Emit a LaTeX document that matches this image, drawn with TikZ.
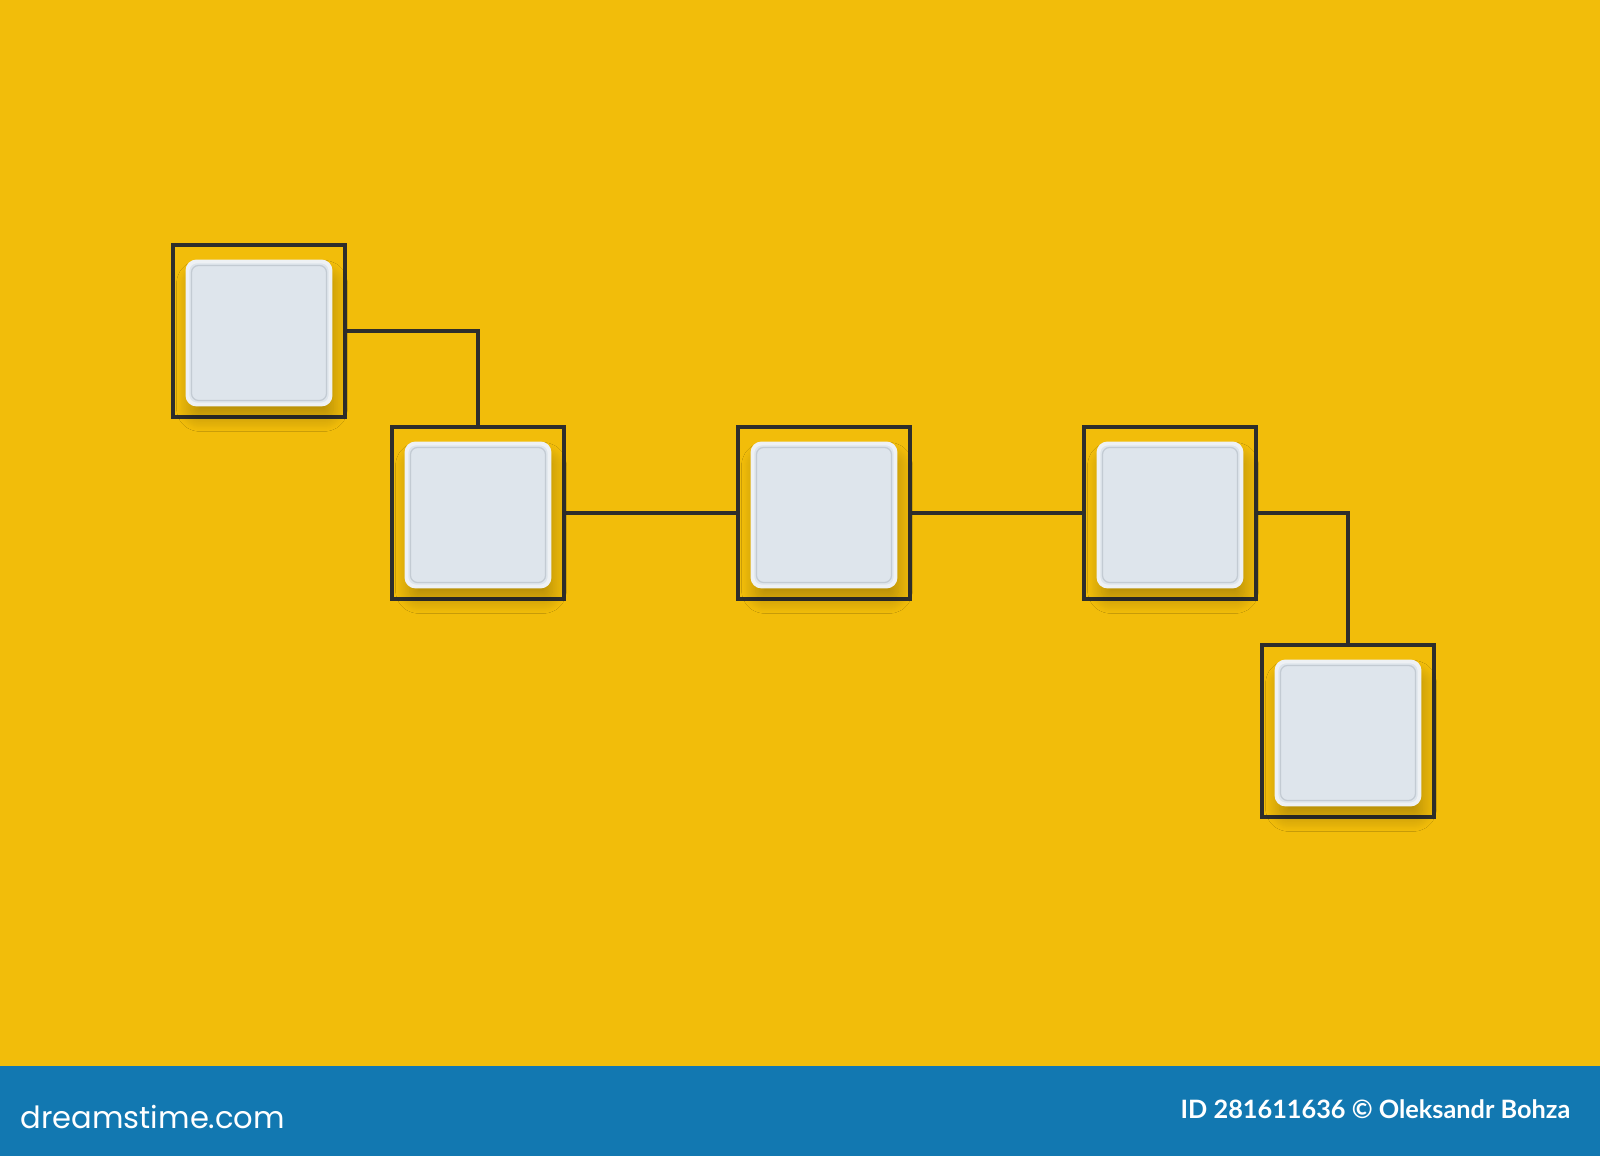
\documentclass[tikz,border=0pt]{standalone}
\usepackage{fontspec}
\usetikzlibrary{shadows.blur}
\newfontfamily\brandfont{Poppins}
\newfontfamily\creditfont{Lato}

\definecolor{bgyellow}{HTML}{F2BD0A}
\definecolor{bandblue}{HTML}{1278B1}
\definecolor{framegray}{HTML}{2E2E2C}
\definecolor{tileface}{HTML}{DEE5EC}
\definecolor{tilerim}{HTML}{EEF1F4}
\definecolor{tileedge}{HTML}{C3CBD3}

\tikzset{
  frame/.style={draw=framegray, line width=1.4pt, minimum size=1.72cm, inner sep=0pt},
  tile/.style={fill=tileface, draw=tilerim, line width=1.1pt, rounded corners=0.09cm,
    minimum size=1.43cm, inner sep=0pt,
    blur shadow={shadow xshift=0.03cm, shadow yshift=-0.13cm, shadow opacity=26,
      shadow blur radius=0.14cm, shadow blur steps=30}},
  face/.style={draw=tileedge, line width=0.35pt, rounded corners=0.07cm,
    minimum size=1.35cm, inner sep=0pt},
  link/.style={draw=framegray, line width=1.4pt},
}

\begin{document}
\begin{tikzpicture}
    % Background and bottom band
    \fill[bgyellow] (0,0) rectangle (16,11.56);
    \fill[bandblue] (0,0) rectangle (16,0.9);
    % Frames
    \node[frame] (f1) at (2.59,8.25) {};
    \node[frame] (f2) at (4.78,6.43) {};
    \node[frame] (f3) at (8.24,6.43) {};
    \node[frame] (f4) at (11.70,6.43) {};
    \node[frame] (f5) at (13.48,4.25) {};
    % Connect the frames
    \draw[link] (f1.east) -| (f2.north);
    \draw[link] (f2.east) -- (f3.west);
    \draw[link] (f3.east) -- (f4.west);
    \draw[link] (f4.east) -| (f5.north);
    % Tiles
    \node[tile] (t1) at ([yshift=-0.02cm]f1) {};
    \node[face] (s1) at (t1) {};
    \node[tile] (t2) at ([yshift=-0.02cm]f2) {};
    \node[face] (s2) at (t2) {};
    \node[tile] (t3) at ([yshift=-0.02cm]f3) {};
    \node[face] (s3) at (t3) {};
    \node[tile] (t4) at ([yshift=-0.02cm]f4) {};
    \node[face] (s4) at (t4) {};
    \node[tile] (t5) at ([yshift=-0.02cm]f5) {};
    \node[face] (s5) at (t5) {};
    % Band texts
    \node[anchor=base west, text=white, inner sep=0pt, font=\brandfont\fontsize{8.7}{10}\selectfont] (brand) at (0.2,0.27) {dreamstime.com};
    \node[anchor=base east, text=white, inner sep=0pt, font=\creditfont\bfseries\fontsize{7.2}{9}\selectfont] (credit) at (15.71,0.37) {ID 281611636 © Oleksandr Bohza};
\end{tikzpicture}
\end{document}
